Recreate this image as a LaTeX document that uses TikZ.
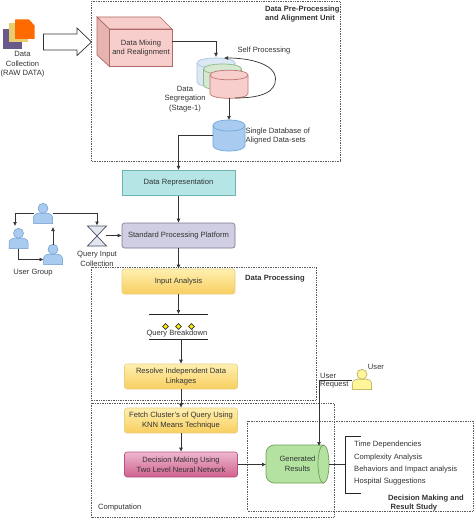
\documentclass[tikz,border=0pt]{standalone}
\usepackage{fontspec}
\setmainfont{Liberation Sans}
\usetikzlibrary{arrows.meta,shapes.geometric,calc}
\definecolor{txt}{HTML}{333333}
\definecolor{personc}{HTML}{A9CBF0}
\definecolor{persond}{HTML}{6C9BD0}
\definecolor{yelc}{HTML}{FFF59A}
\definecolor{yeld}{HTML}{A8A040}
\definecolor{ytop}{HTML}{FFF0B0}
\definecolor{ybot}{HTML}{F8CE60}
\definecolor{yline}{HTML}{E8D080}
\definecolor{ptop}{HTML}{EDB8D0}
\definecolor{pbot}{HTML}{D0608E}
\definecolor{pline}{HTML}{B85080}
\definecolor{cubef}{HTML}{F8CECC}
\definecolor{cubes}{HTML}{E6B3B1}
\definecolor{cubed}{HTML}{B06A68}
\definecolor{repf}{HTML}{B5E5E5}
\definecolor{repd}{HTML}{6FB3B3}
\definecolor{sppf}{HTML}{D0CEE2}
\definecolor{sppd}{HTML}{7A7592}
\definecolor{grf}{HTML}{B4E2A0}
\definecolor{grd}{HTML}{6E9E5A}
\definecolor{cblue}{HTML}{DCE8F4}
\definecolor{cblued}{HTML}{A9C6DE}
\definecolor{cgreen}{HTML}{D5E8D0}
\definecolor{cgreend}{HTML}{92B88A}
\definecolor{cred}{HTML}{F8CECC}
\definecolor{credd}{HTML}{C07572}
\definecolor{dbf}{HTML}{A9CBF0}
\definecolor{dbd}{HTML}{6FA8DC}
\definecolor{icoa}{HTML}{6A5A8C}
\definecolor{icob}{HTML}{E8CC70}
\definecolor{icoc}{HTML}{FF6A00}
\definecolor{hgf}{HTML}{E4E6F0}
\definecolor{hgd}{HTML}{4A4E60}
\tikzset{
  x=1pt,y=-1pt,
  every node/.style={font=\fontsize{7.6}{9.6}\selectfont,text=txt,align=center,inner sep=0pt},
  zone/.style={draw=black!65,densely dotted,line width=0.7pt},
  link/.style={draw=black!80,line width=0.7pt,-{Latex[length=4pt,width=4pt]}},
  plain/.style={draw=black!80,line width=0.7pt},
  stepbox/.style={line width=0.6pt,rounded corners=2.5pt,minimum height=25pt,minimum width=113pt},
  ybox/.style={stepbox,top color=ytop,bottom color=ybot,draw=yline},
  head/.style={font=\fontsize{7.6}{9.6}\selectfont\bfseries},
}
\newcommand{\userfig}[4]{% x y fill draw
  \fill[#3,draw=#4,line width=0.5pt] (#1-9.5,#2+20) -- (#1-9.5,#2+14) .. controls (#1-9.5,#2+11) and (#1-6,#2+9.5) .. (#1-4,#2+9.5) -- (#1+4,#2+9.5) .. controls (#1+6,#2+9.5) and (#1+9.5,#2+11) .. (#1+9.5,#2+14) -- (#1+9.5,#2+20) -- cycle;
  \fill[#3,draw=#4,line width=0.5pt] (#1,#2+4.8) circle[radius=5];
}
\newcommand{\cyl}[7]{% cx top w h ry fill draw
  \path[fill=#6,draw=#7,line width=0.7pt] (#1-#3/2,#2) -- (#1-#3/2,#2+#4) .. controls (#1-#3/2,#2+#4+#5*1.33) and (#1+#3/2,#2+#4+#5*1.33) .. (#1+#3/2,#2+#4) -- (#1+#3/2,#2) .. controls (#1+#3/2,#2-#5*1.33) and (#1-#3/2,#2-#5*1.33) .. (#1-#3/2,#2) -- cycle;
  \path[draw=#7,line width=0.7pt] (#1-#3/2,#2) .. controls (#1-#3/2,#2+#5*1.33) and (#1+#3/2,#2+#5*1.33) .. (#1+#3/2,#2);
}
\begin{document}
\begin{tikzpicture}
\useasboundingbox (0,0) rectangle (474,519);
\fill[white] (0,0) rectangle (474,519);
% zones
\draw[zone] (91.5,1.5) rectangle (340,161);
\draw[zone] (91.5,267) rectangle (316,400.5);
\draw[zone] (91.5,403) rectangle (334,517);
\draw[zone] (247.5,421) rectangle (473,511);
% data collection
\fill[icoa] (3,29) rectangle (22,49);
\fill[icob] (9,23) rectangle (28,42);
\fill[icoc] (15,19.5) -- (29,19.5) -- (34.5,25.5) -- (34.5,39) -- (15,39) -- cycle;
\node (dc) at (22.5,64.5) {Data\\Collection\\(RAW DATA)};
% big arrow
\draw[black!80,line width=0.7pt,fill=white] (43.5,34) -- (77,34) -- (77,28) -- (91.5,42) -- (77,55.5) -- (77,50) -- (43.5,50) -- cycle;
% cube
\fill[cubef,draw=cubed,line width=0.7pt] (109.5,29) rectangle (172,66.5);
\fill[cubes,draw=cubed,line width=0.7pt] (97,17) -- (109.5,29) -- (109.5,66.5) -- (97,55) -- cycle;
\fill[cubef,draw=cubed,line width=0.7pt] (97,17) -- (160,17) -- (172,29) -- (109.5,29) -- cycle;
\node (mix) at (141,48) {Data Mixing\\and Realignment};
\coordinate (mixr) at (172,41.5);
% data segregation cylinders
\cyl{216}{63}{38}{19}{5}{cblue}{cblued}
\cyl{222.5}{69}{38}{16}{5}{cgreen}{cgreend}
\cyl{229}{75}{38}{18.5}{4.8}{cred}{credd}
\coordinate (segtop) at (216,57);
\coordinate (segbot) at (229,98);
\coordinate (segr) at (235,98);
\coordinate (segin) at (224,58);
\draw[link] (mixr) -| (segtop);
\draw[plain,-{Latex[length=4pt,width=4pt]}] (segr) .. controls (262,98) and (275.5,92) .. (275.5,79) .. controls (275.5,64) and (250,58) .. (224,58);
\node at (264,51) {Self Processing};
\node at (185,99) {Data\\Segregation\\(Stage-1)};
% single database
\cyl{229}{125.5}{32}{20}{5.5}{dbf}{dbd}
\coordinate (dbtop) at (229,120);
\coordinate (dbl) at (213,135);
\draw[link] (segbot) -- (dbtop);
\node[anchor=west,align=left] at (245.5,136) {Single Database of\\Aligned Data-sets};
\node[head,align=left,anchor=north west] at (265,5.5) {Data Pre-Processing\\and Alignment Unit};
% data representation
\node[draw=repd,fill=repf,line width=0.7pt,minimum width=113pt,minimum height=25.5pt] (rep) at (178.5,183) {Data Representation};
\draw[link] (dbl) -| (rep.north);
% SPP
\node[stepbox,draw=sppd,fill=sppf] (spp) at (178.5,235.5) {Standard Processing Platform};
\draw[link] (rep) -- (spp);
% users
\userfig{43}{203.5}{personc}{persond}
\userfig{18.5}{228.5}{personc}{persond}
\userfig{53}{244.5}{personc}{persond}
\node at (33,273) {User Group};
% hourglass
\fill[hgf,draw=hgd,line width=0.7pt] (87.5,226) -- (106.5,226) -- (87.5,246) -- (106.5,246) -- cycle;
\coordinate (hg) at (97,225.5);
\coordinate (hgr) at (106,235.5);
\node at (97,259) {Query Input\\Collection};
\draw[plain,-{Latex[length=4pt,width=4pt]}] (53,213.5) -| (hg);
\draw[plain,-{Latex[length=4pt,width=4pt]}] (33.5,213.5) -| (15,226);
\draw[plain,-{Latex[length=4pt,width=4pt]}] (18.5,248.5) |- (43.5,259.5);
\draw[plain,-{Latex[length=4pt,width=4pt]}] (53,245) -- (53,227);
\draw[link] (hgr) -- (spp.west);
% input analysis
\node[ybox] (ia) at (178.5,281.5) {Input Analysis};
\draw[link] (spp) -- (ia);
\node[head] at (275,279) {Data Processing};
% query breakdown
\coordinate (bt) at (178.5,314);
\coordinate (bb) at (181,339);
\draw[line width=1pt,black!85] (149,314) -- (208,314);
\draw[line width=1pt,black!85] (149,339) -- (208,339);
\draw[link] (ia) -- (bt);
\foreach \x in {165.5,178.5,191.5}{
  \node[diamond,draw=black!80,fill=yellow,minimum width=6pt,minimum height=6pt,line width=0.7pt] at (\x,326.5) {};
}
\node at (177,334) {Query Breakdown};
% resolve
\node[ybox] (rl) at (181,376.5) {Resolve Independent Data\\Linkages};
\draw[link] (bb) -- (rl);
% fetch
\node[ybox] (fc) at (181,420.5) {Fetch Cluster's of Query Using\\KNN Means Technique};
\draw[link] (rl) -- (fc);
% decision
\node[stepbox,top color=ptop,bottom color=pbot,draw=pline] (dm) at (181,464.5) {Decision Making Using\\Two Level Neural Network};
\draw[link] (fc) -- (dm);
% generated
\fill[grf,draw=grd,line width=0.7pt] (266,453) .. controls (266,449) and (270,445) .. (274,445) -- (323.5,445) .. controls (327,445) and (329,455) .. (329,464) .. controls (329,473) and (327,483) .. (323.5,483) -- (274,483) .. controls (270,483) and (266,479) .. (266,475) -- cycle;
\draw[grd,line width=0.7pt] (323.5,445) .. controls (320,445) and (318,455) .. (318,464) .. controls (318,473) and (320,483) .. (323.5,483);
\node (gr) at (297.5,464) {Generated\\Results};
\coordinate (grt) at (319,446);
\draw[link] (dm) -- (266,464.5);
% user
\userfig{362}{369.5}{yelc}{yeld}
\coordinate (ur) at (352,380);
\draw[plain,-{Latex[length=4pt,width=4pt]}] (ur) -- (319,380) -- (grt);
\node at (376,367) {User};
\node[align=left,anchor=west] at (320,376) {User};
\node[align=left,anchor=west] at (320,385) {Request};
% bracket
\draw[plain] (329,464.5) -- (345,464.5);
\draw[line width=1pt,black!85] (361,436) -- (345,436) -- (345,493) -- (361,493);
\node[anchor=west] at (354,445) {Time Dependencies};
\node[anchor=west] at (354,458) {Complexity Analysis};
\node[anchor=west] at (354,470) {Behaviors and Impact analysis};
\node[anchor=west] at (354,482) {Hospital Suggestions};
\node[head,align=left,anchor=west] at (388,503) {Decision Making and\\\hspace*{2.5pt}Result Study};
\node[anchor=west] at (98,508) {Computation};
\end{tikzpicture}
\end{document}
